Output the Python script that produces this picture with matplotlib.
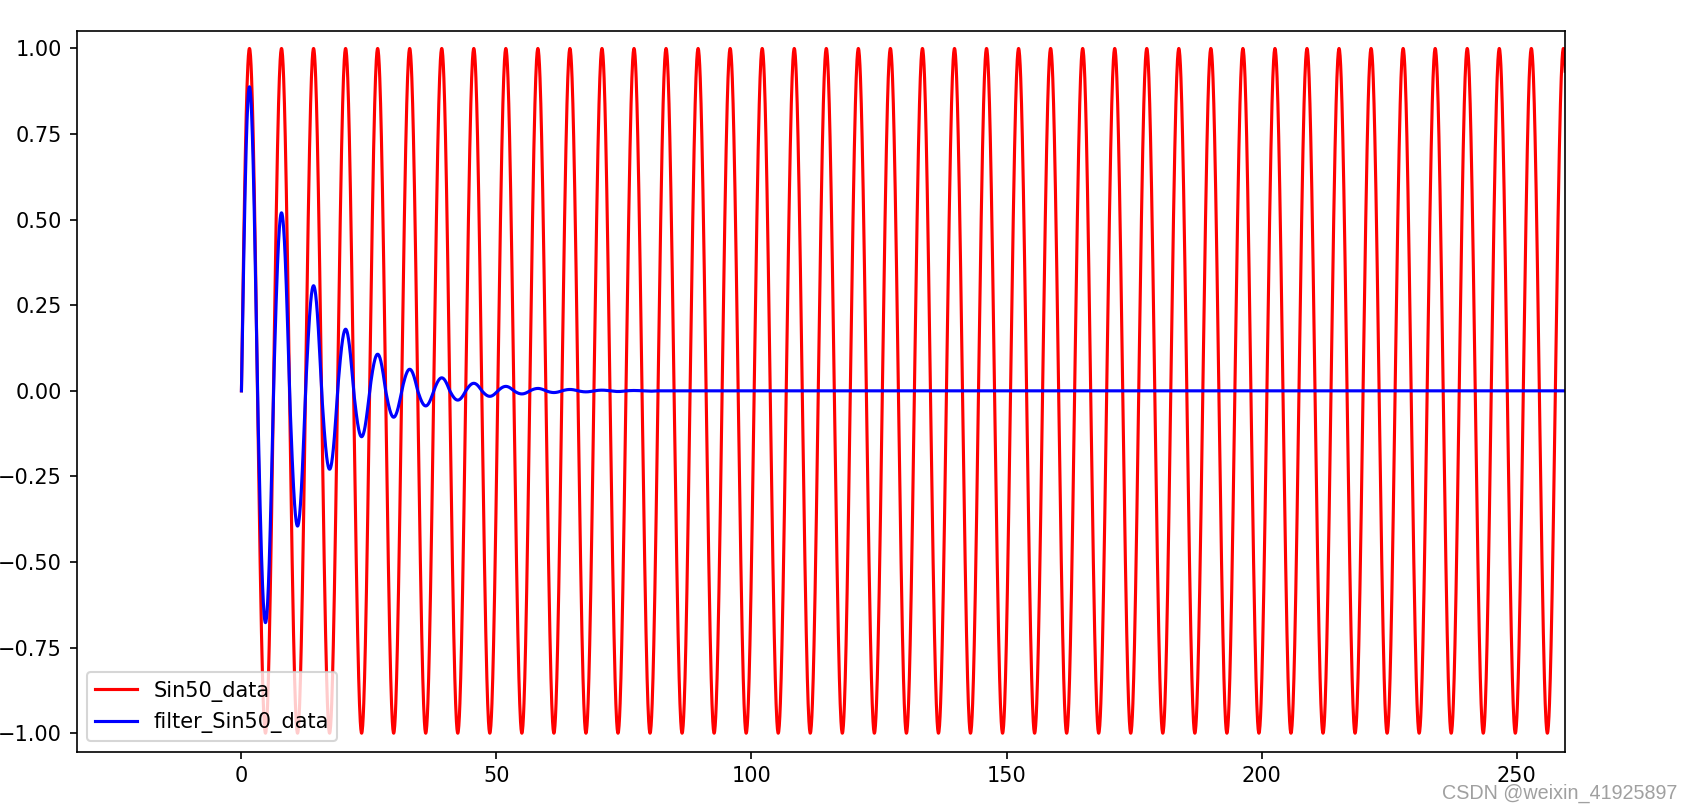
import numpy as np
import matplotlib
matplotlib.use("Agg")
import matplotlib.pyplot as plt

# ---- data ----
# Both signals oscillate with a period of ~2*pi samples; each half-cycle ("lobe")
# has the peak value listed below (sign alternates, starting positive).
lobe_length = np.pi
sin50_lobe_peaks = [1.00] * 84
filter_lobe_peaks = [0.888, 0.677, 0.520, 0.395, 0.307, 0.229, 0.180, 0.134,
                     0.107, 0.077, 0.063, 0.044, 0.038, 0.027, 0.022, 0.016,
                     0.013, 0.009, 0.007, 0.005, 0.004, 0.003, 0.002, 0.002,
                     0.001, 0.001]
labels = ["Sin50_data", "filter_Sin50_data"]
x_limits = (-32.3, 259.5)
y_limits = (-1.054, 1.051)
watermark = "CSDN @weixin_41925897"


def lobes_to_curve(peaks, n_total, pts_per_lobe=60):
    x_all, y_all = [], []
    for k in range(n_total):
        amp = peaks[k] if k < len(peaks) else 0.0
        t = np.linspace(0, 1, pts_per_lobe, endpoint=False)
        x = (k + t) * lobe_length
        y = amp * (1 if k % 2 == 0 else -1) * np.sin(np.pi * t)
        x_all.append(x)
        y_all.append(y)
    return np.concatenate(x_all), np.concatenate(y_all)


n_lobes = len(sin50_lobe_peaks)
xr, yr = lobes_to_curve(sin50_lobe_peaks, n_lobes)
xb, yb = lobes_to_curve(filter_lobe_peaks, n_lobes)

fig = plt.figure(figsize=(1693 / 150, 811 / 150), dpi=150)
ax = fig.add_axes([76.7 / 1693, 1 - 751.7 / 811, (1565 - 76.7) / 1693, (751.7 - 31) / 811])
ax.plot(xr, yr, color="red", lw=1.5, label=labels[0])
ax.plot(xb, yb, color="blue", lw=1.5, label=labels[1])
ax.set_xlim(*x_limits)
ax.set_ylim(*y_limits)
ax.set_yticks(np.arange(-1.0, 1.01, 0.25))
ax.legend(loc="lower left")

fig.text(0.9906, 0.022, watermark, ha="right", va="center", fontsize=9.5,
         family="Liberation Sans", color="#a0a0a0")

fig.savefig("out.png", dpi=150)
